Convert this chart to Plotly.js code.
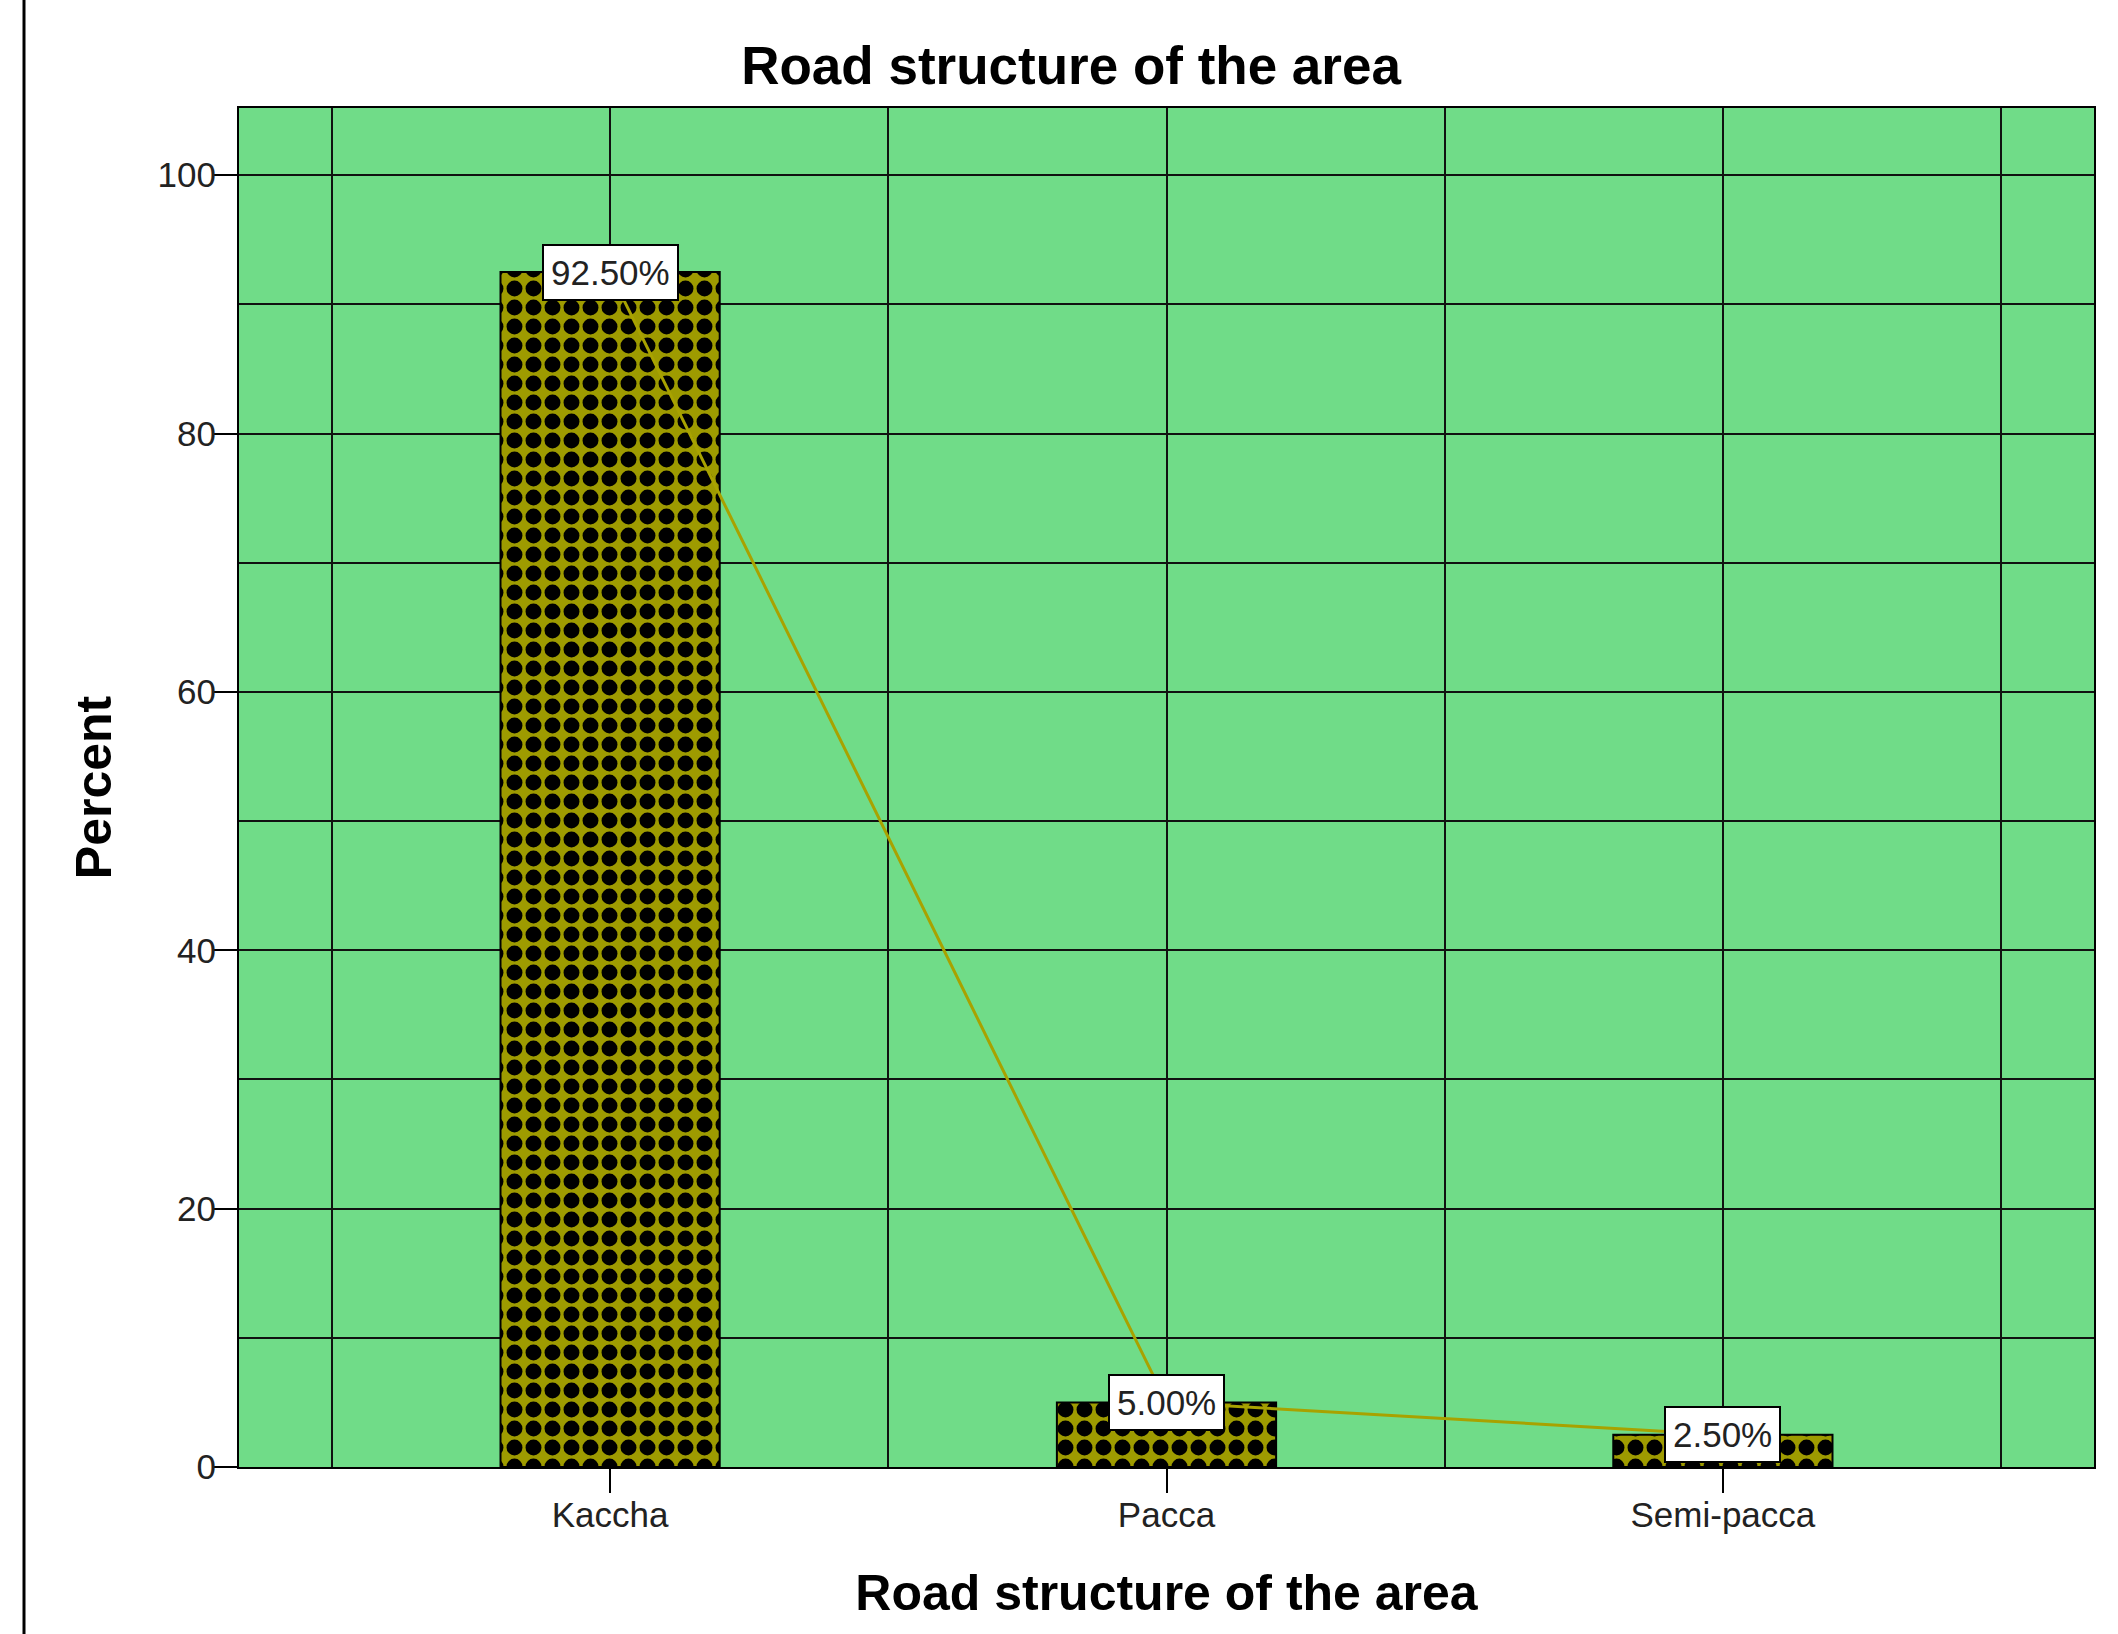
<!DOCTYPE html>
<html>
<head>
<meta charset="utf-8">
<script src="https://cdn.plot.ly/plotly-3.0.1.min.js"></script>
<style>
  html, body { margin: 0; padding: 0; background: #fff; }
  #chart { width: 2118px; height: 1634px; }
</style>
</head>
<body>
<div id="chart"></div>
<script>
// Road structure of the area — SPSS style bar + line

const categories = ["Kaccha", "Pacca", "Semi-pacca"];
const percents = [92.5, 5.0, 2.5];
const yTicks = [0, 20, 40, 60, 80, 100];

const OLIVE = "#9e9b00", LINE = "#a8a200", GREEN = "#70dc88", INK = "#111";
const FONT = "Liberation Sans, Arial, sans-serif";

const xIdx = categories.map((_, i) => i);

const bars = {
    type: "bar", x: xIdx, y: percents, width: 0.394,
    marker: {
        color: OLIVE,
        line: { color: "#000", width: 2 },
        pattern: { shape: ".", fgcolor: "#000", bgcolor: OLIVE, size: 19, solidity: 0.55 }
    },
    hoverinfo: "skip"
};

const line = {
    type: "scatter", mode: "lines", x: xIdx, y: percents,
    line: { color: LINE, width: 3 }, hoverinfo: "skip"
};

const labels = percents.map((v, i) => ({
    x: i, y: v, xref: "x", yref: "y", text: v.toFixed(2) + "%", showarrow: false,
    bgcolor: "#fff", bordercolor: "#000", borderwidth: 2, borderpad: 7,
    font: { family: FONT, size: 35, color: "#222" }
}));

const axBase = {
    showline: true, linecolor: "#000", linewidth: 2, mirror: true,
    ticks: "outside", tickcolor: "#000", tickwidth: 2,
    showgrid: true, gridcolor: INK, gridwidth: 2, zeroline: false,
    tickfont: { family: FONT, size: 35, color: "#222" }
};

const layout = {
    width: 2118, height: 1634,
    margin: { l: 239, r: 24, t: 108, b: 167 },
    paper_bgcolor: "#fff", plot_bgcolor: GREEN,
    showlegend: false,
    title: {
        text: "Road structure of the area", x: 0.5057, y: 0.96, xanchor: "center", yanchor: "middle",
        font: { family: FONT, size: 53, color: "#000", weight: "bold" }
    },
    xaxis: {
        ...axBase, range: [-0.667, 2.667], tickvals: xIdx, ticktext: categories, ticklen: 24,
        ticklabelstandoff: -8,
        minor: { dtick: 0.5, tick0: 0, showgrid: true, gridcolor: INK, gridwidth: 2, ticks: "" },
        title: { text: "Road structure of the area", standoff: 42, font: { family: FONT, size: 50, color: "#000", weight: "bold" } }
    },
    yaxis: {
        ...axBase, range: [0, 105.2], tickvals: yTicks, ticklen: 23,
        ticklabelstandoff: -9,
        minor: { dtick: 10, tick0: 0, showgrid: true, gridcolor: INK, gridwidth: 2, ticks: "" },
        title: { text: "Percent", standoff: 30, font: { family: FONT, size: 50, color: "#000", weight: "bold" } }
    },
    annotations: labels,
    shapes: [{
        type: "line", xref: "paper", yref: "paper",
        x0: -0.1159, x1: -0.1159, y0: -0.1229, y1: 1.0795,
        line: { color: "#000", width: 3 }
    }]
};

Plotly.newPlot("chart", [bars, line], layout, { displayModeBar: false, staticPlot: true });
</script>
</body>
</html>
